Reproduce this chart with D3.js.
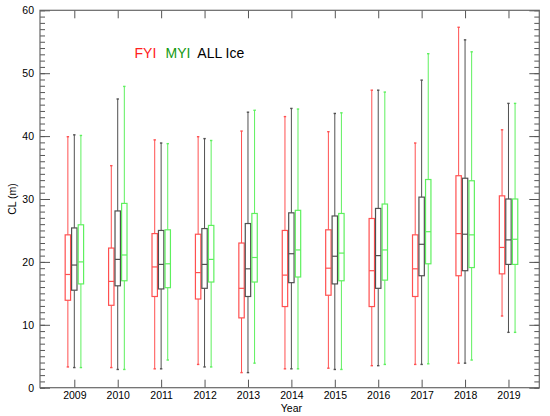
<!DOCTYPE html>
<html>
<head>
<meta charset="utf-8">
<script src="https://cdn.jsdelivr.net/npm/d3@7"></script>
<style>
  html, body { margin: 0; padding: 0; background: #fff; }
  svg { display: block; font-family: "Liberation Sans", Arial, Helvetica, sans-serif; }
</style>
</head>
<body>
<svg id="chart" width="550" height="416"></svg>
<script>
const years = [2009, 2010, 2011, 2012, 2013, 2014, 2015, 2016, 2017, 2018, 2019];
const yTicks = [0, 10, 20, 30, 40, 50, 60];

// FYI (red)
const fyiMin = [3.3, 3.2, 3.0, 3.7, 2.4, 3.0, 3.1, 3.5, 3.7, 3.9, 11.4];
const fyiQ1  = [13.9, 13.1, 14.5, 14.1, 11.1, 12.9, 14.7, 12.9, 14.5, 17.8, 18.1];
const fyiMed = [18.0, 16.9, 19.2, 18.3, 15.8, 17.9, 19.0, 18.6, 18.9, 24.5, 22.3];
const fyiQ3  = [24.3, 22.2, 24.5, 24.4, 23.0, 25.0, 25.1, 26.9, 24.3, 33.7, 30.5];
const fyiMax = [39.9, 35.3, 39.4, 39.9, 40.8, 43.1, 40.7, 47.3, 38.9, 57.3, 41.0];

// ALL Ice (black)
const allMin = [3.2, 2.9, 3.0, 3.3, 2.4, 3.0, 2.9, 3.5, 3.7, 3.9, 8.8];
const allQ1  = [15.5, 16.2, 15.7, 15.8, 14.5, 16.7, 16.5, 15.8, 17.8, 18.6, 19.6];
const allMed = [19.5, 20.4, 19.6, 19.6, 18.9, 21.3, 20.9, 21.0, 22.8, 24.4, 23.5];
const allQ3  = [25.4, 28.1, 25.0, 25.3, 26.1, 27.8, 27.3, 28.5, 30.3, 33.3, 30.0];
const allMax = [40.2, 45.9, 38.9, 39.6, 43.8, 44.4, 43.6, 47.3, 48.9, 55.3, 45.2];

// MYI (green)
const myiMin = [3.2, 2.9, 4.4, 3.3, 3.9, 3.0, 2.9, 3.7, 3.8, 4.4, 8.8];
const myiQ1  = [16.5, 17.0, 15.9, 16.8, 16.8, 17.6, 17.0, 17.1, 19.7, 19.1, 19.6];
const myiMed = [20.0, 21.1, 19.7, 20.4, 20.7, 21.9, 21.4, 21.9, 24.8, 24.3, 23.6];
const myiQ3  = [25.9, 29.3, 25.1, 25.8, 27.7, 28.2, 27.7, 29.2, 33.1, 32.9, 30.0];
const myiMax = [40.1, 47.9, 38.8, 39.3, 44.1, 44.3, 43.7, 47.0, 53.1, 53.4, 45.2];

const series = [
  { name: "FYI", color: "#ff5050", offset: -0.148, min: fyiMin, q1: fyiQ1, med: fyiMed, q3: fyiQ3, max: fyiMax },
  { name: "ALL Ice", color: "#505050", offset: 0, min: allMin, q1: allQ1, med: allMed, q3: allQ3, max: allMax },
  { name: "MYI", color: "#5ef05e", offset: 0.152, min: myiMin, q1: myiQ1, med: myiMed, q3: myiQ3, max: myiMax }
];

const svg = d3.select("#chart");
const L = 40, R = 539.3, T = 10.3, B = 387.7;

const x = d3.scaleLinear().domain([2008.21, 2019.71]).range([L, R]);
const y = d3.scaleLinear().domain([0, 60]).range([B, T]);

// frame axes
const minorTicks = d3.range(0, 61, 1);
svg.append("g").attr("transform", `translate(${L},0)`)
  .call(d3.axisRight(y).tickValues(minorTicks).tickSize(5).tickFormat(""))
  .call(g => g.select(".domain").remove());
svg.append("g").attr("transform", `translate(${L},0)`)
  .call(d3.axisRight(y).tickValues(yTicks).tickSize(10).tickFormat(""))
  .call(g => g.select(".domain").remove());
svg.append("g").attr("transform", `translate(${R},0)`)
  .call(d3.axisLeft(y).tickValues(minorTicks).tickSize(5).tickFormat(""))
  .call(g => g.select(".domain").remove());
svg.append("g").attr("transform", `translate(${R},0)`)
  .call(d3.axisLeft(y).tickValues(yTicks).tickSize(10).tickFormat(""))
  .call(g => g.select(".domain").remove());

// y labels
const yl = svg.append("g").attr("transform", `translate(${L},0)`)
  .call(d3.axisLeft(y).tickValues(yTicks).tickSize(0).tickPadding(6).tickFormat(d3.format("d")));
yl.select(".domain").remove();
yl.selectAll("text").attr("font-size", 10.5).attr("fill", "#000")
  .attr("font-family", "'Liberation Sans', Arial, sans-serif");

// bottom axis
const xb = svg.append("g").attr("transform", `translate(0,${B})`)
  .call(d3.axisTop(x).tickValues(years).tickSize(8).tickFormat(""));
xb.select(".domain").remove();
const xbl = svg.append("g").attr("transform", `translate(0,${B})`)
  .call(d3.axisBottom(x).tickValues(years).tickSize(0).tickPadding(4).tickFormat(d3.format("d")));
xbl.select(".domain").remove();
xbl.selectAll("text").attr("font-size", 10.5).attr("fill", "#000")
  .attr("font-family", "'Liberation Sans', Arial, sans-serif");

// top axis
const xt = svg.append("g").attr("transform", `translate(0,${T})`)
  .call(d3.axisBottom(x).tickValues(years).tickSize(8).tickFormat(""));
xt.select(".domain").remove();

svg.selectAll(".tick line").attr("stroke", "#555").attr("stroke-width", 1);

// frame box
svg.append("rect").attr("x", L).attr("y", T).attr("width", R - L).attr("height", B - T)
  .attr("fill", "none").attr("stroke", "#666").attr("stroke-width", 1.2);

// box plots
const bw = 5.4;
const capW = 2.4;
series.forEach(s => {
  const g = svg.append("g").attr("class", "series-" + s.name.replace(/\s/g, ""));
  years.forEach((yr, i) => {
    const cx = x(yr + s.offset);
    g.append("line").attr("x1", cx).attr("x2", cx)
      .attr("y1", y(s.min[i])).attr("y2", y(s.q1[i]))
      .attr("stroke", s.color).attr("stroke-width", 1);
    g.append("line").attr("x1", cx).attr("x2", cx)
      .attr("y1", y(s.q3[i])).attr("y2", y(s.max[i]))
      .attr("stroke", s.color).attr("stroke-width", 1);
    [s.min[i], s.max[i]].forEach(v => {
      g.append("line").attr("x1", cx - capW / 2).attr("x2", cx + capW / 2)
        .attr("y1", y(v)).attr("y2", y(v))
        .attr("stroke", s.color).attr("stroke-width", 1.4);
    });
    g.append("rect").attr("x", cx - bw / 2).attr("y", y(s.q3[i]))
      .attr("width", bw).attr("height", y(s.q1[i]) - y(s.q3[i]))
      .attr("fill", "#fff").attr("stroke", s.color).attr("stroke-width", 1.2);
    g.append("line").attr("x1", cx - bw / 2).attr("x2", cx + bw / 2)
      .attr("y1", y(s.med[i])).attr("y2", y(s.med[i]))
      .attr("stroke", s.color).attr("stroke-width", 1.2);
  });
});

// legend
const legendItems = [
  { text: "FYI", color: "#ff2020", x: 134.5 },
  { text: "MYI", color: "#119911", x: 165.5 },
  { text: "ALL Ice", color: "#000000", x: 197.3 }
];
svg.append("g").selectAll("text").data(legendItems).join("text")
  .attr("x", d => d.x).attr("y", 57.5)
  .attr("fill", d => d.color).attr("font-size", 14)
  .text(d => d.text);

// axis titles
svg.append("text").attr("x", x(2014)).attr("y", 412)
  .attr("text-anchor", "middle").attr("font-size", 10.5).attr("fill", "#000").text("Year");
svg.append("text").attr("transform", `translate(16,199) rotate(-90)`)
  .attr("text-anchor", "middle").attr("font-size", 10.5).attr("fill", "#000").text("CL (m)");
</script>
</body>
</html>
